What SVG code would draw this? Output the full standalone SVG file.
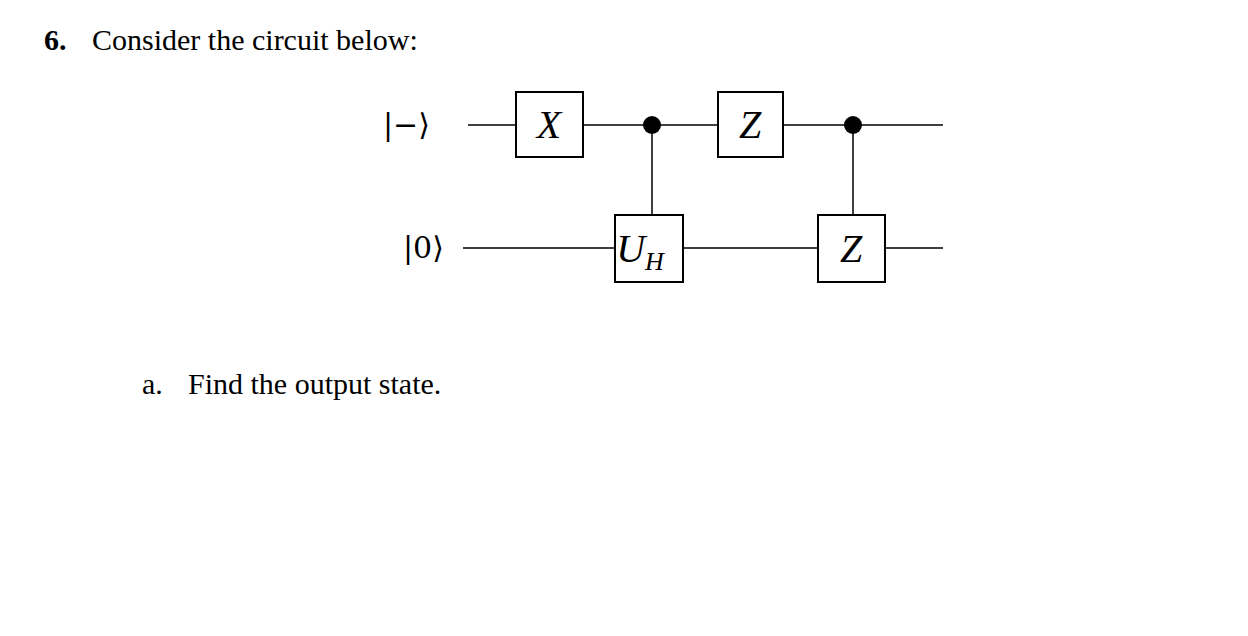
<svg xmlns="http://www.w3.org/2000/svg" width="1248" height="636" viewBox="0 0 1248 636">
<style>
.t{font-family:"Liberation Serif",serif;font-size:30px;fill:#000}
.m{font-family:"Liberation Serif",serif;font-style:italic;font-size:40px;fill:#000;text-anchor:middle}
.k{font-family:"DejaVu Serif",serif;font-size:30px;fill:#000}
.w{stroke:#000;stroke-width:1.5;fill:none}
.b{stroke:#000;stroke-width:2;fill:#fff}
</style>
<rect width="1248" height="636" fill="#fff"/>
<text class="t" x="44" y="50"><tspan font-weight="bold">6.</tspan><tspan x="92">Consider the circuit below:</tspan></text>
<text class="t" x="142" y="394">a.<tspan x="188">Find the output state.</tspan></text>
<g id="connectors">
<path class="w" d="M468 125H943M463 248H943M652 125V248M853 125V248"/>
</g>
<g id="ket-minus"><text class="k" x="383" y="135">|−⟩</text></g>
<g id="ket-zero"><text class="k" x="403" y="258">|0⟩</text></g>
<g id="X"><rect class="b" x="516" y="92" width="67" height="65"/><text class="m" x="549" y="138">X</text></g>
<g id="ctrl1"><circle cx="652" cy="125" r="9"/></g>
<g id="Z1"><rect class="b" x="718" y="92" width="65" height="65"/><text class="m" x="750" y="138">Z</text></g>
<g id="ctrl2"><circle cx="853" cy="125" r="9"/></g>
<g id="UH"><rect class="b" x="615" y="215" width="68" height="67"/><text class="m" x="640" y="262">U<tspan font-size="26" dy="8">H</tspan></text></g>
<g id="Z2"><rect class="b" x="818" y="215" width="67" height="67"/><text class="m" x="851" y="262">Z</text></g>
</svg>
